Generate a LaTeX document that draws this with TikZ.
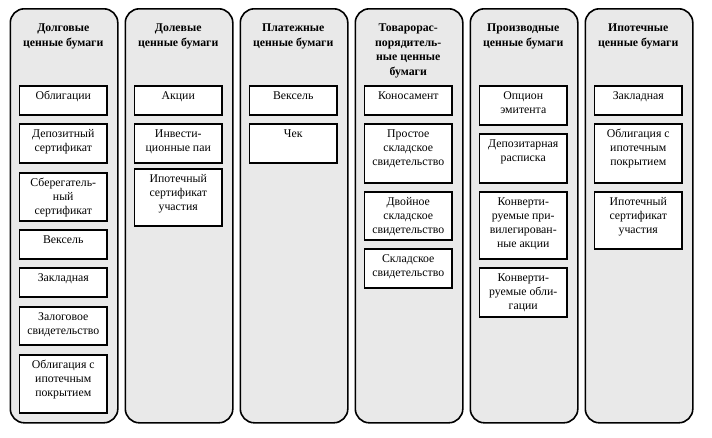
\documentclass[tikz,border=0pt]{standalone}
\usepackage{fontspec}
\setmainfont{Liberation Serif}
\definecolor{colfill}{HTML}{E9E9E9}
\newcommand{\cellat}[5]{%
  \node[cell, minimum height={#4pt-#3pt}] (#1) at (#2,#3) {};
  \node[celltext] (#1t) at (#2,{#3+5.5}) {\rule{0pt}{9pt}#5};
}
\begin{document}
\begin{tikzpicture}[x=1pt,y=-1pt,
  column/.style={draw=black, line width=1.6pt, fill=colfill, rounded corners=14pt,
    minimum width=107.5pt, minimum height=414pt, anchor=north west, inner sep=0pt},
  cell/.style={draw=black, line width=1.8pt, fill=white, minimum width=87.5pt, inner sep=0pt, anchor=north},
  celltext/.style={anchor=north, align=center, font=\fontsize{11.8}{13.8}\selectfont, inner sep=0pt},
  head/.style={anchor=north, align=center, font=\fontsize{11.8}{14.5}\selectfont\bfseries, inner sep=0pt}]
\useasboundingbox (0,0) rectangle (712,437);
% columns
\node[column] (col1) at (9.5,8) {};
\node[column] (col2) at (124.5,8) {};
\node[column] (col3) at (239.5,8) {};
\node[column] (col4) at (354.5,8) {};
\node[column] (col5) at (469.5,8) {};
\node[column] (col6) at (584.5,8) {};
% headers
\node[head] (h1) at (63.25,21.5) {\rule{0pt}{10pt}Долговые\\ценные бумаги};
\node[head] (h2) at (178.25,21.5) {\rule{0pt}{10pt}Долевые\\ценные бумаги};
\node[head] (h3) at (293.25,21.5) {\rule{0pt}{10pt}Платежные\\ценные бумаги};
\node[head] (h4) at (408.25,21.5) {\rule{0pt}{10pt}Товарорас-\\порядитель-\\ные ценные\\бумаги};
\node[head] (h5) at (523.25,21.5) {\rule{0pt}{10pt}Производные\\ценные бумаги};
\node[head] (h6) at (638.25,21.5) {\rule{0pt}{10pt}Ипотечные\\ценные бумаги};
% column 1
\cellat{a1}{63.25}{85}{114}{Облигации}
\cellat{a2}{63.25}{123}{162}{Депозитный\\сертификат}
\cellat{a3}{63.25}{172}{220}{Сберегатель-\\ный\\сертификат}
\cellat{a4}{63.25}{229}{258}{Вексель}
\cellat{a5}{63.25}{267}{296}{Закладная}
\cellat{a6}{63.25}{306}{344}{Залоговое\\свидетельство}
\cellat{a7}{63.25}{354}{412}{Облигация с\\ипотечным\\покрытием}
% column 2
\cellat{b1}{178.25}{85}{114}{Акции}
\cellat{b2}{178.25}{123}{162}{Инвести-\\ционные паи}
\cellat{b3}{178.25}{168}{225}{Ипотечный\\сертификат\\участия}
% column 3
\cellat{c1}{293.25}{85}{114}{Вексель}
\cellat{c2}{293.25}{123}{162}{Чек}
% column 4
\cellat{d1}{408.25}{85}{114}{Коносамент}
\cellat{d2}{408.25}{123}{182}{Простое\\складское\\свидетельство}
\cellat{d3}{408.25}{191}{239}{Двойное\\складское\\свидетельство}
\cellat{d4}{408.25}{248}{287}{Складское\\свидетельство}
% column 5
\cellat{e1}{523.25}{85}{124}{Опцион\\эмитента}
\cellat{e2}{523.25}{133}{182}{Депозитарная\\расписка}
\cellat{e3}{523.25}{191}{258}{Конверти-\\руемые при-\\вилегирован-\\ные акции}
\cellat{e4}{523.25}{267}{316}{Конверти-\\руемые обли-\\гации}
% column 6
\cellat{f1}{638.25}{85}{114}{Закладная}
\cellat{f2}{638.25}{123}{182}{Облигация с\\ипотечным\\покрытием}
\cellat{f3}{638.25}{191}{248}{Ипотечный\\сертификат\\участия}
\end{tikzpicture}
\end{document}
